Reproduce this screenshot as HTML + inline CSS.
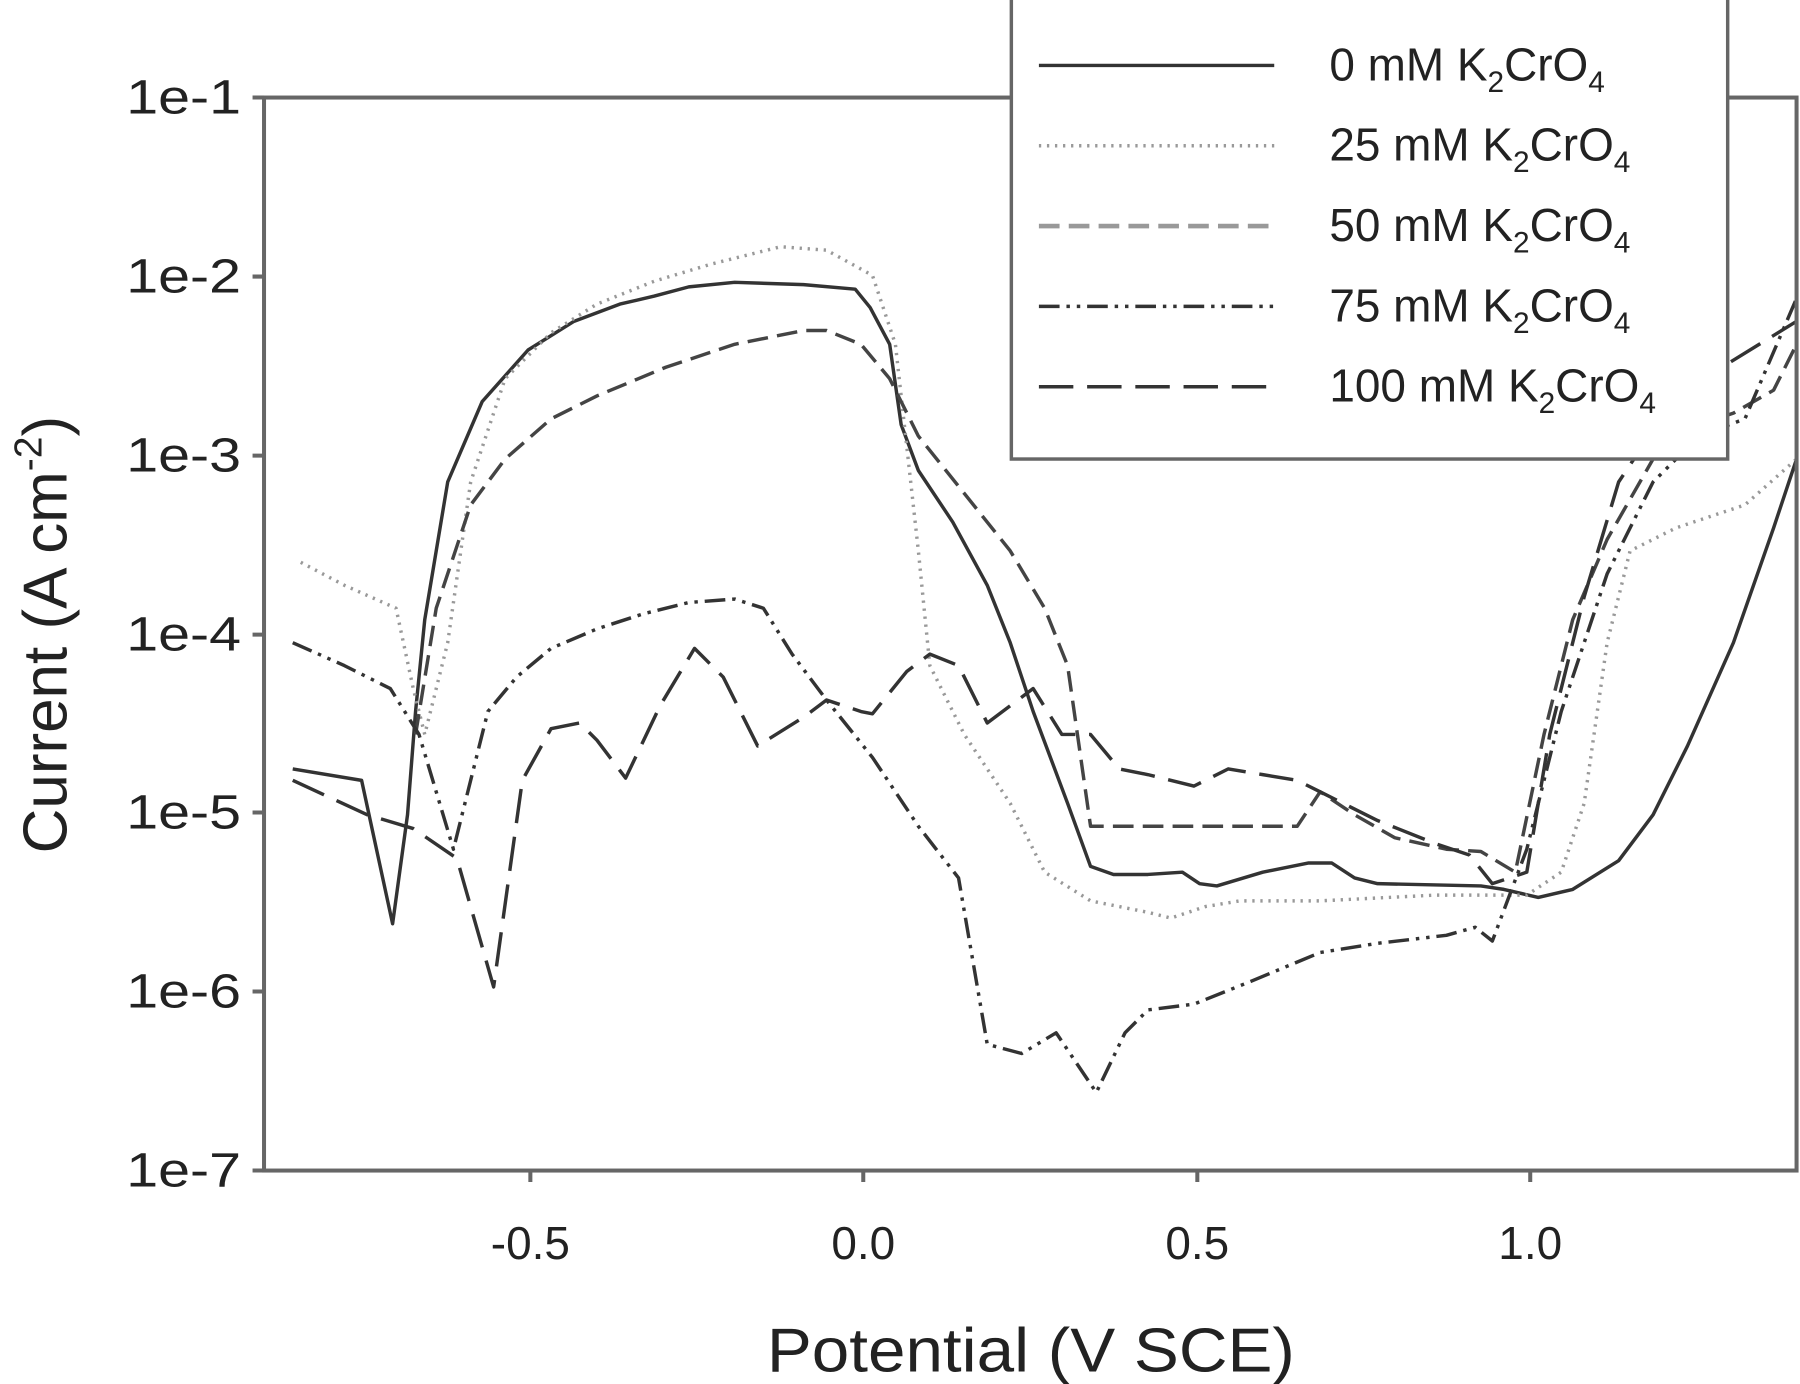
<!DOCTYPE html>
<html><head><meta charset="utf-8"><style>html,body{margin:0;padding:0;background:#fff}svg{display:block}</style></head>
<body>
<svg width="1800" height="1384" viewBox="0 0 1568 1206" preserveAspectRatio="none" xmlns="http://www.w3.org/2000/svg" font-family="Liberation Sans, sans-serif">
<rect width="1568" height="1206" fill="#fff"/>
<g fill="none" stroke-linejoin="round">
<polyline stroke="#333" stroke-width="3" points="255,670 315,680 342,805 355,710 362,620 370,540 390,420 420,350 460,305 500,280 540,265 570,258 600,250 640,246 700,248 745,252 758,268 775,300 785,370 800,410 830,455 860,510 880,560 900,620 930,700 950,755 970,762 1000,762 1030,760 1045,770 1060,772 1100,760 1140,752 1160,752 1180,765 1200,770 1290,772 1310,775 1340,782 1370,775 1410,750 1440,710 1470,650 1510,560 1545,460 1565,400"/>
<polyline stroke="#999" stroke-width="3" stroke-dasharray="2,5" points="262,490 300,510 345,530 360,600 370,640 380,600 390,560 410,420 440,330 480,290 520,265 570,245 620,230 680,215 720,218 760,240 780,300 800,480 810,580 840,640 880,700 910,760 950,785 1000,795 1020,800 1050,790 1080,785 1150,785 1250,780 1330,780 1360,760 1380,700 1400,560 1420,480 1460,460 1520,440 1565,400"/>
<polyline stroke="#444" stroke-width="3" stroke-dasharray="18,8" points="362,640 380,530 410,440 440,400 480,365 520,345 580,320 640,300 700,288 720,288 750,300 775,330 800,380 840,430 880,480 910,530 930,580 950,720 1000,720 1130,720 1150,690 1180,710 1215,730 1260,740 1290,742 1320,760 1345,640 1370,540 1400,470 1440,400 1480,370 1510,360 1545,340 1565,300"/>
<polyline stroke="#333" stroke-width="3" stroke-dasharray="18,6,3,6,3,6" points="255,560 300,580 340,600 365,640 395,740 410,680 425,620 450,590 480,565 520,548 560,535 600,525 640,522 665,530 690,570 720,610 760,660 800,720 835,765 860,910 890,918 920,900 955,952 980,900 1000,880 1040,875 1090,855 1150,830 1200,822 1260,815 1285,808 1300,820 1330,740 1360,620 1400,500 1440,420 1480,380 1520,365 1565,260"/>
<polyline stroke="#333" stroke-width="3" stroke-dasharray="30,12" points="255,680 320,710 360,722 398,748 430,860 455,680 480,635 505,630 520,645 545,678 575,615 605,565 630,590 660,650 700,625 720,610 750,620 760,622 790,585 810,570 835,580 860,630 900,600 925,640 950,640 975,670 1000,675 1040,685 1070,670 1100,675 1130,680 1150,690 1170,700 1200,715 1250,735 1280,745 1300,770 1330,760 1350,640 1380,520 1410,420 1450,360 1500,320 1565,280"/>
</g>
<g stroke="#666" stroke-width="3.5" fill="none">
<rect x="230" y="85" width="1335" height="935"/>
<path d="M230,85h-10M230,241h-10M230,397h-10M230,553h-10M230,708h-10M230,864h-10M230,1020h-10M462,1020v10M752,1020v10M1043,1020v10M1333,1020v10"/>
</g>
<g font-size="42" fill="#222" text-anchor="end">
<text x="210" y="99" textLength="100" lengthAdjust="spacingAndGlyphs">1e-1</text><text x="210" y="255" textLength="100" lengthAdjust="spacingAndGlyphs">1e-2</text><text x="210" y="411" textLength="100" lengthAdjust="spacingAndGlyphs">1e-3</text><text x="210" y="567" textLength="100" lengthAdjust="spacingAndGlyphs">1e-4</text><text x="210" y="722" textLength="100" lengthAdjust="spacingAndGlyphs">1e-5</text><text x="210" y="878" textLength="100" lengthAdjust="spacingAndGlyphs">1e-6</text><text x="210" y="1034" textLength="100" lengthAdjust="spacingAndGlyphs">1e-7</text>
</g>
<g font-size="40" fill="#222" text-anchor="middle">
<text x="462" y="1097">-0.5</text><text x="752" y="1097">0.0</text><text x="1043" y="1097">0.5</text><text x="1333" y="1097">1.0</text>
<text x="898" y="1195" font-size="54" textLength="460" lengthAdjust="spacingAndGlyphs">Potential (V SCE)</text>
</g>
<text transform="translate(58,553) rotate(-90)" font-size="54" fill="#222" text-anchor="middle">Current (A cm<tspan font-size="34" dy="-22">-2</tspan><tspan dy="22">)</tspan></text>
<rect x="881" y="-3" width="624" height="403" fill="#fff" stroke="#666" stroke-width="3"/>
<g fill="none" stroke-width="3">
<line x1="905" y1="57" x2="1110" y2="57" stroke="#333"/>
<line x1="905" y1="127" x2="1110" y2="127" stroke="#999" stroke-dasharray="2,5"/>
<line x1="905" y1="197" x2="1110" y2="197" stroke="#999" stroke-width="4" stroke-dasharray="18,8"/>
<line x1="905" y1="267" x2="1110" y2="267" stroke="#333" stroke-dasharray="18,6,3,6,3,6"/>
<line x1="905" y1="337" x2="1110" y2="337" stroke="#333" stroke-dasharray="30,12"/>
</g>
<g font-size="40" fill="#222">
<text x="1158" y="70">0 mM K<tspan font-size="26" dy="10">2</tspan><tspan dy="-10">CrO</tspan><tspan font-size="26" dy="10">4</tspan></text>
<text x="1158" y="140">25 mM K<tspan font-size="26" dy="10">2</tspan><tspan dy="-10">CrO</tspan><tspan font-size="26" dy="10">4</tspan></text>
<text x="1158" y="210">50 mM K<tspan font-size="26" dy="10">2</tspan><tspan dy="-10">CrO</tspan><tspan font-size="26" dy="10">4</tspan></text>
<text x="1158" y="280">75 mM K<tspan font-size="26" dy="10">2</tspan><tspan dy="-10">CrO</tspan><tspan font-size="26" dy="10">4</tspan></text>
<text x="1158" y="350">100 mM K<tspan font-size="26" dy="10">2</tspan><tspan dy="-10">CrO</tspan><tspan font-size="26" dy="10">4</tspan></text>
</g>
</svg>
</body></html>
